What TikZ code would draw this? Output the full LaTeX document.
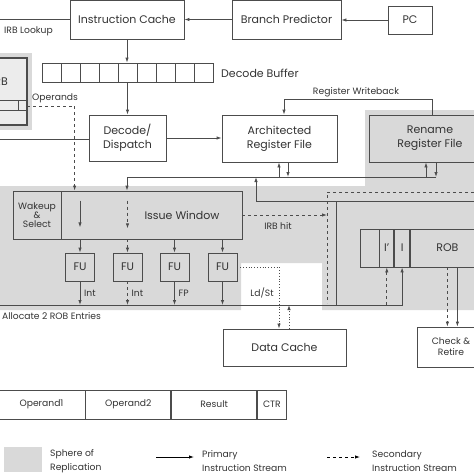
\documentclass[tikz,border=0pt]{standalone}
\usepackage{fontspec}
\setmainfont{Poppins}
\usetikzlibrary{arrows.meta}
\definecolor{linec}{gray}{0.3}
\definecolor{sphere}{gray}{0.85}
\newcommand{\bigf}{\fontsize{11}{14}\selectfont}
\newcommand{\midf}{\fontsize{9.2}{11}\selectfont}
\newcommand{\smallf}{\fontsize{9.2}{13.5}\selectfont}

\begin{document}
\begin{tikzpicture}
  [x=1pt,y=-1pt,>={Latex[length=5pt,width=3.4pt]},
   every node/.style={inner sep=0pt,text=black!80},
   blk/.style={draw=linec,line width=0.8pt,align=center,font=\bigf},
   cell/.style={draw=linec,line width=0.8pt,minimum width=19pt,minimum height=19pt},
   lbl/.style={font=\smallf,align=left},
   wire/.style={draw=linec,line width=0.8pt}]
  \useasboundingbox (0,0) rectangle (474,474);
  \clip (0,0) rectangle (474,474);

  % sphere of replication
  \fill[sphere] (0,186) -- (365,186) -- (365,110) -- (480,110) -- (480,310) -- (322,310)
    -- (322,263) -- (241,263) -- (241,310) -- (0,310) -- cycle;

  % IRB
  \fill[gray!30] (-40,53) rectangle (32,130);
  \node[blk,fill=gray!15,line width=1.6pt,minimum width=67pt,minimum height=67pt] (irb) at (-6.5,91.5) {};
  \node[font=\bigf,anchor=east] (irbt) at (8,82) {IRB};
  \draw[linec,line width=0.8pt] (-40,100) -- (27,100) (-40,110) -- (27,110) (18,100) -- (18,110);

  % fetch
  \node[blk,minimum width=114pt,minimum height=39pt] (icache) at (127,19.5) {Instruction Cache};
  \node[blk,minimum width=109pt,minimum height=39pt] (bpred) at (286.5,19.5) {Branch Predictor};
  \node[blk,minimum width=44pt,minimum height=28pt] (pc) at (410,20) {PC};
  \foreach \i in {0,...,8}
    \node[cell] (db\i) at (51.5+19*\i,72.5) {};
  \node[font=\bigf,anchor=west] (dblbl) at (221,73) {Decode Buffer};

  % decode and register files
  \node[blk,fill=white,minimum width=77pt,minimum height=46pt] (decode) at (127.5,138) {Decode/\\Dispatch};
  \node[blk,fill=white,minimum width=115pt,minimum height=47pt] (archrf) at (279.5,138.5) {Architected\\Register File};
  \node[blk,minimum width=122pt,minimum height=47pt] (renrf) at (430,138.5) {Rename\\Register File};

  % issue
  \node[blk,font=\midf,minimum width=48pt,minimum height=48pt] (wake) at (37,215) {Wakeup\\[-2pt]\&\\[-2pt]Select};
  \node[blk,minimum width=181pt,minimum height=48pt] (issue) at (151.5,215) {};
  \node[font=\bigf] (iwlbl) at (182,215) {Issue Window};
  \foreach \x [count=\i] in {80,127.5,174.5,222.5}
    \node[blk,minimum width=29pt,minimum height=28pt] (fu\i) at (\x,267) {FU};

  % ROB
  \node[blk,minimum width=19pt,minimum height=38pt] (rob0) at (369.5,248) {};
  \node[blk,minimum width=14pt,minimum height=38pt,anchor=west] (ip) at (rob0.east) {I'};
  \node[blk,minimum width=15pt,minimum height=38pt,anchor=west] (ic) at (ip.east) {I};
  \node[blk,minimum width=74pt,minimum height=38pt,anchor=west] (rob) at (ic.east) {ROB};
  \node[blk,font=\midf,minimum width=68pt,minimum height=40pt] (check) at (451,347) {Check \&\\Retire};
  \node[blk,minimum width=123pt,minimum height=37pt] (dcache) at (284.5,347.5) {Data Cache};

  % instruction format
  \node[blk,font=\midf,minimum width=87pt,minimum height=29pt] (op1) at (41.5,404.5) {Operand1};
  \node[blk,font=\midf,minimum width=85pt,minimum height=29pt,anchor=west] (op2) at (op1.east) {Operand2};
  \node[blk,font=\midf,minimum width=85pt,minimum height=29pt,anchor=west] (res) at (op2.east) {Result};
  \node[blk,font=\midf,minimum width=29pt,minimum height=29pt,anchor=west] (ctr) at (res.east) {CTR};

  % helper points
  \coordinate (irbl) at (0,19.5);
  \coordinate (irbd) at (0,139);
  \coordinate (irbop) at (27,106);
  \coordinate (busl) at (127,177);
  \coordinate (busr) at (436,177);
  \coordinate (robtr) at (480,201);
  \coordinate (robtl) at (256,201);
  \coordinate (robbl) at (336,305);
  \coordinate (hitr) at (480,192);
  \coordinate (hitb) at (327,303);
  \coordinate (alloc) at (0,305);
  \coordinate (lblrow) at (0,293);

  % fetch path
  \draw[wire,->] (pc.west) -- (bpred.east|-pc.west);
  \draw[wire,->] (bpred) -- (icache);
  \draw[wire] (icache.west) -- (irbl);
  \draw[wire,->] (icache.south) -- (icache.south|-db4.north);
  \draw[wire,->] (db4.south) -- (decode.north);
  \draw[wire] (irbd) -- (decode.west|-irbd);
  \draw[wire,->] (decode.east) -- (archrf.west|-decode.east);
  \draw[wire,dashed,->] (irbop) -| ([xshift=14]issue.north west);

  % register writeback and bus
  \draw[wire,->] ([xshift=2]renrf.north) -- ++(0,-15) -| ([xshift=4.5]archrf.north);
  \draw[wire,->] ([xshift=6]renrf.south) -- (busr);
  \draw[wire,->] (busr) -- (busl) -- (busl|-issue.north);
  \draw[wire,->] ([xshift=-4]renrf.south|-busl) -- ([xshift=-4]renrf.south);
  \draw[wire,->] ([xshift=-0.5]archrf.south|-busl) -- ([xshift=-0.5]archrf.south);
  \draw[wire,->] ([xshift=8.5]archrf.south) -- ([xshift=8.5]archrf.south|-busl);
  \draw[wire,->] (robtr) -- (robtl) -- (robtl|-busl);
  \draw[wire] (robtl-|robbl) -- (robbl);

  % issue to FUs
  \draw[wire,->] ([yshift=-10]issue.north-|fu1.north) -- ([yshift=12]issue.south-|fu1.north);
  \draw[wire,dashed,->] ([yshift=-10]issue.north-|fu2.north) -- ([yshift=11]issue.south-|fu2.north);
  \foreach \i/\s in {1/solid,2/dashed,3/solid,4/solid} {
    \draw[wire,\s,->] (issue.south-|fu\i.north) -- (fu\i.north);
    \draw[wire,\s,->] (fu\i.south) -- (fu\i.south|-alloc);
  }
  \foreach \i/\t in {1/Int,2/Int,3/FP}
    \node[lbl,anchor=west] at ([xshift=4]fu\i.south|-lblrow) {\t};

  % IRB hit, ROB allocation, retire
  \draw[wire,dashed] (hitr) -| (hitb);
  \draw[wire,dashed,->] (issue.east) -- (issue.east-|hitb);
  \draw[wire,->] (alloc) -| (ic.south);
  \draw[wire,dashed,->] (ip.south|-alloc) -- (ip.south);
  \draw[wire,dashed,->] (rob.south) -- (rob.south|-check.north);
  \draw[wire,->] ([xshift=10]rob.south) -- ([xshift=10]rob.south|-check.north);

  % load/store
  \draw[wire,dotted,->] (fu4.east) -| ([xshift=-5.5]dcache.north);
  \draw[wire,dotted,->] ([xshift=4.5]dcache.north) -- ([xshift=4.5]dcache.north|-alloc);

  % labels
  \node[lbl,anchor=west] (irblbl) at (4,31) {IRB Lookup};
  \node[lbl,anchor=west] (oplbl) at (32,98) {Operands};
  \node[lbl] (rwlbl) at (356,92) {Register Writeback};
  \node[lbl] (hitlbl) at (278,226) {IRB hit};
  \node[lbl] (lslbl) at (262,293) {Ld/St};
  \node[lbl,anchor=west] (alloclbl) at (2,316) {Allocate 2 ROB Entries};

  % legend
  \node[fill=sphere,minimum width=38pt,minimum height=25pt] (lgsq) at (23,459.5) {};
  \node[lbl,anchor=west] (lgsph) at (50,461) {Sphere of\\Replication};
  \coordinate (lgp1) at (156,457);
  \coordinate (lgp2) at (194,457);
  \draw[black,line width=0.8pt,->] (lgp1) -- (lgp2);
  \node[lbl,anchor=west] (lgpri) at (202,461) {Primary\\Instruction Stream};
  \coordinate (lgs1) at (327,457);
  \coordinate (lgs2) at (360,457);
  \draw[black,line width=0.8pt,dashed,->] (lgs1) -- (lgs2);
  \node[lbl,anchor=west] (lgsec) at (372,461) {Secondary\\Instruction Stream};
\end{tikzpicture}
\end{document}
